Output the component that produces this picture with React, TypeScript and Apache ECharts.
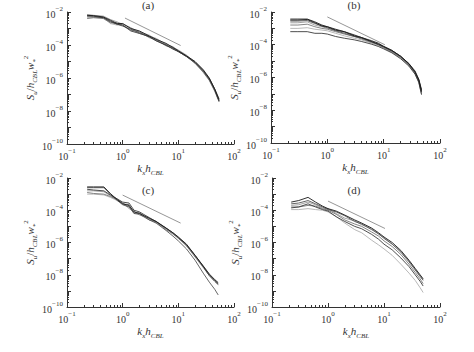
import React, { useEffect, useRef } from 'react';
import * as echarts from 'echarts';

// ---- data (S_u / h_CBL w*^2 versus k_x h_CBL) ----
const kA = [0.23, 0.3, 0.45, 0.6, 0.8, 1, 1.4, 2, 3, 4, 6, 8, 10, 14, 20, 28, 36, 45, 54];
const panelA = [
  [6.3e-3, 6.0e-3, 5.0e-3, 3.2e-3, 2.0e-3, 2.0e-3, 1.0e-3, 7.1e-4, 3.5e-4, 2.2e-4, 1.26e-4, 7.1e-5, 4.5e-5, 2.2e-5, 1.0e-5, 3.2e-6, 1.0e-6, 2.2e-7, 5.0e-8],
  [5.0e-3, 5.0e-3, 4.5e-3, 2.5e-3, 1.8e-3, 1.4e-3, 8.9e-4, 5.6e-4, 3.2e-4, 1.8e-4, 1.0e-4, 6.3e-5, 4.0e-5, 2.0e-5, 7.9e-6, 2.5e-6, 7.9e-7, 1.8e-7, 4.0e-8],
  [7.1e-3, 6.3e-3, 5.6e-3, 3.5e-3, 2.5e-3, 1.8e-3, 1.1e-3, 5.0e-4, 3.5e-4, 2.5e-4, 1.1e-4, 7.9e-5, 4.5e-5, 2.2e-5, 8.9e-6, 2.8e-6, 8.9e-7, 2.2e-7, 5.6e-8],
  [4.0e-3, 4.5e-3, 4.0e-3, 2.2e-3, 2.2e-3, 1.6e-3, 7.9e-4, 6.3e-4, 2.8e-4, 2.0e-4, 8.9e-5, 6.3e-5, 4.0e-5, 2.2e-5, 7.9e-6, 2.2e-6, 7.1e-7, 1.6e-7, 3.5e-8],
  [5.6e-3, 5.9e-3, 5.2e-3, 2.0e-3, 1.6e-3, 2.0e-3, 1.1e-3, 6.3e-4, 4.0e-4, 2.2e-4, 1.1e-4, 7.1e-5, 5.0e-5, 2.5e-5, 8.9e-6, 2.8e-6, 9.3e-7, 2.0e-7, 4.5e-8],
  [5.9e-3, 5.6e-3, 4.5e-3, 2.8e-3, 1.8e-3, 1.6e-3, 7.1e-4, 5.0e-4, 3.2e-4, 1.8e-4, 1.0e-4, 5.6e-5, 4.0e-5, 2.0e-5, 8.9e-6, 2.8e-6, 8.9e-7, 2.0e-7, 4.0e-8],
];
const refA = [[1.1, 4.3e-3], [11, 9.3e-5]];

const kB = [0.22, 0.3, 0.44, 0.6, 0.8, 1, 1.4, 2, 3, 4, 6, 8, 10, 14, 20, 28, 36, 42, 47];
const panelB = [
  [3.7e-3, 3.7e-3, 3.7e-3, 2.5e-3, 1.6e-3, 1.26e-3, 7.9e-4, 6.3e-4, 3.5e-4, 2.8e-4, 1.6e-4, 1.1e-4, 7.9e-5, 4.5e-5, 2.0e-5, 7.1e-6, 2.2e-6, 7.1e-7, 1.4e-7],
  [2.8e-3, 2.8e-3, 3.0e-3, 2.0e-3, 1.4e-3, 1.1e-3, 7.1e-4, 5.0e-4, 3.2e-4, 2.5e-4, 1.6e-4, 1.0e-4, 7.1e-5, 4.0e-5, 1.8e-5, 6.3e-6, 2.0e-6, 6.3e-7, 1.26e-7],
  [2.2e-3, 2.2e-3, 2.5e-3, 1.6e-3, 1.26e-3, 1.0e-3, 7.9e-4, 5.6e-4, 3.5e-4, 2.2e-4, 1.4e-4, 1.0e-4, 6.3e-5, 3.5e-5, 1.6e-5, 5.6e-6, 1.8e-6, 5.6e-7, 1.0e-7],
  [1.6e-3, 1.6e-3, 1.8e-3, 1.26e-3, 1.0e-3, 8.9e-4, 6.3e-4, 4.5e-4, 3.2e-4, 2.5e-4, 1.4e-4, 1.1e-4, 7.1e-5, 4.0e-5, 1.8e-5, 6.3e-6, 2.0e-6, 7.1e-7, 1.6e-7],
  [1.0e-3, 1.0e-3, 1.1e-3, 8.9e-4, 7.9e-4, 7.1e-4, 5.0e-4, 3.5e-4, 2.5e-4, 2.0e-4, 1.26e-4, 8.9e-5, 6.3e-5, 3.5e-5, 1.6e-5, 5.6e-6, 1.8e-6, 5.6e-7, 1.1e-7],
  [6.3e-4, 6.3e-4, 6.3e-4, 5.0e-4, 5.0e-4, 4.5e-4, 3.2e-4, 2.5e-4, 2.0e-4, 1.6e-4, 1.1e-4, 7.9e-5, 5.6e-5, 3.2e-5, 1.4e-5, 5.0e-6, 1.6e-6, 5.0e-7, 8.9e-8],
  [3.2e-3, 3.2e-3, 3.5e-3, 2.2e-3, 1.4e-3, 1.26e-3, 8.9e-4, 6.3e-4, 4.0e-4, 2.8e-4, 1.8e-4, 1.26e-4, 7.9e-5, 4.5e-5, 2.0e-5, 7.1e-6, 2.5e-6, 7.9e-7, 1.8e-7],
];
const refB = [[1.0, 5.0e-3], [10.5, 1.0e-4]];

const kC = [0.23, 0.3, 0.46, 0.6, 0.8, 1, 1.3, 1.6, 2, 3, 4, 6, 8, 10, 14, 20, 28, 36, 45, 52];
const panelC = [
  [2.8e-3, 2.8e-3, 2.8e-3, 1.1e-3, 4.5e-4, 2.5e-4, 2.0e-4, 7.9e-5, 6.3e-5, 3.2e-5, 2.0e-5, 7.9e-6, 4.0e-6, 2.2e-6, 7.9e-7, 1.6e-7, 3.5e-8, 1.1e-8, 5.0e-9, 3.2e-9],
  [2.5e-3, 2.5e-3, 2.5e-3, 1.0e-3, 4.0e-4, 2.2e-4, 1.6e-4, 6.3e-5, 5.6e-5, 2.5e-5, 1.6e-5, 5.6e-6, 2.5e-6, 1.26e-6, 4.0e-7, 7.9e-8, 1.26e-8, 3.5e-9, 1.26e-9, 5.6e-10],
  [1.6e-3, 1.6e-3, 1.4e-3, 7.9e-4, 5.0e-4, 2.8e-4, 1.6e-4, 7.9e-5, 6.3e-5, 2.8e-5, 1.8e-5, 7.1e-6, 3.5e-6, 2.0e-6, 7.1e-7, 1.4e-7, 3.2e-8, 1.0e-8, 4.5e-9, 2.8e-9],
  [1.26e-3, 1.1e-3, 1.0e-3, 7.1e-4, 4.5e-4, 2.5e-4, 2.2e-4, 6.3e-5, 7.1e-5, 2.5e-5, 2.0e-5, 6.3e-6, 3.5e-6, 1.8e-6, 6.3e-7, 1.26e-7, 2.8e-8, 8.9e-9, 4.0e-9, 2.5e-9],
  [1.0e-3, 1.0e-3, 8.9e-4, 6.3e-4, 4.0e-4, 2.8e-4, 1.26e-4, 8.9e-5, 5.0e-5, 3.2e-5, 1.6e-5, 7.9e-6, 3.2e-6, 2.0e-6, 6.3e-7, 1.4e-7, 3.5e-8, 1.1e-8, 5.0e-9, 3.2e-9],
  [2.0e-3, 1.8e-3, 1.6e-3, 8.9e-4, 5.0e-4, 3.2e-4, 2.8e-4, 1.0e-4, 7.9e-5, 3.5e-5, 2.0e-5, 7.9e-6, 4.0e-6, 2.0e-6, 7.1e-7, 1.6e-7, 3.2e-8, 8.9e-9, 4.0e-9, 2.5e-9],
];
const refC = [[1.0, 8.7e-4], [11, 1.6e-5]];

const kD = [0.22, 0.3, 0.44, 0.6, 0.8, 1, 1.4, 2, 3, 4, 6, 8, 10, 14, 20, 28, 36, 44, 50];
const panelD = [
  [3.2e-4, 4.0e-4, 6.3e-4, 3.2e-4, 1.8e-4, 1.26e-4, 8.9e-5, 5.0e-5, 2.5e-5, 1.6e-5, 7.9e-6, 4.0e-6, 2.2e-6, 1.0e-6, 3.2e-7, 7.9e-8, 2.5e-8, 1.0e-8, 5.6e-9],
  [2.5e-4, 2.8e-4, 4.0e-4, 2.5e-4, 1.6e-4, 1.1e-4, 7.9e-5, 4.5e-5, 2.0e-5, 1.4e-5, 6.3e-6, 3.5e-6, 1.8e-6, 7.9e-7, 2.5e-7, 6.3e-8, 2.0e-8, 7.9e-9, 4.5e-9],
  [2.0e-4, 2.2e-4, 3.2e-4, 2.2e-4, 1.4e-4, 1.26e-4, 6.3e-5, 3.2e-5, 2.2e-5, 1.26e-5, 7.1e-6, 3.2e-6, 2.0e-6, 7.9e-7, 2.8e-7, 7.1e-8, 2.2e-8, 8.9e-9, 5.0e-9],
  [1.6e-4, 1.6e-4, 2.0e-4, 1.8e-4, 1.26e-4, 1.0e-4, 5.6e-5, 2.5e-5, 1.4e-5, 1.0e-5, 4.5e-6, 2.5e-6, 1.26e-6, 5.6e-7, 1.8e-7, 4.5e-8, 1.4e-8, 5.6e-9, 2.8e-9],
  [1.1e-4, 1.1e-4, 1.26e-4, 1.1e-4, 1.0e-4, 7.9e-5, 4.0e-5, 1.6e-5, 6.3e-6, 4.0e-6, 1.4e-6, 7.1e-7, 4.0e-7, 1.6e-7, 4.5e-8, 1.26e-8, 4.5e-9, 1.6e-9, 7.9e-10],
  [1.4e-4, 1.6e-4, 2.5e-4, 1.6e-4, 1.1e-4, 8.9e-5, 4.0e-5, 2.0e-5, 1.0e-5, 7.1e-6, 3.2e-6, 1.6e-6, 7.9e-7, 3.5e-7, 1.1e-7, 3.2e-8, 1.0e-8, 4.0e-9, 2.0e-9],
];
const refD = [[1.0, 3.7e-4], [10.4, 7.4e-6]];

const panelTitles = ['(a)', '(b)', '(c)', '(d)'];
const curveColors = ['#1a1a1a', '#555555', '#999999', '#777777', '#b0b0b0', '#3a3a3a', '#222222'];

const FONT = '"Liberation Serif", "Times New Roman", serif';

const grids = [
  { left: 67, top: 12, width: 167, height: 132 },
  { left: 271, top: 12, width: 169, height: 131 },
  { left: 67, top: 178, width: 167, height: 129 },
  { left: 272, top: 178, width: 168, height: 129 },
];
const titlePos = [[148, 5], [354, 5], [148, 190], [354, 190]];

const labelRich = {
  b: { fontSize: 10, fontFamily: FONT, color: '#333', lineHeight: 14, verticalAlign: 'bottom' },
  s: { fontSize: 7, fontFamily: FONT, color: '#333', lineHeight: 8, verticalAlign: 'top' },
};
const nameRich = {
  i: { fontSize: 11, fontFamily: FONT, fontStyle: 'italic', color: '#333', lineHeight: 16, verticalAlign: 'middle' },
  r: { fontSize: 11, fontFamily: FONT, color: '#333', lineHeight: 16, verticalAlign: 'middle' },
  sb: { fontSize: 7, fontFamily: FONT, fontStyle: 'italic', color: '#333', lineHeight: 8, verticalAlign: 'bottom' },
  sp: { fontSize: 7, fontFamily: FONT, color: '#333', lineHeight: 8, verticalAlign: 'top' },
};

function powLabel(v: number) {
  const e = Math.round(Math.log10(v));
  return `{b|10}{s|${e < 0 ? '−' + -e : e}}`;
}
function evenPowLabel(v: number) {
  const e = Math.round(Math.log10(v));
  return e % 2 === 0 ? powLabel(v) : '';
}

const minorX: number[] = [];
for (let n = -1; n < 2; n++) for (let k = 2; k < 10; k++) minorX.push(n + Math.log10(k));
const minorY: number[] = [];
for (let n = -10; n < -2; n++) for (let k = 2; k < 10; k++) minorY.push(n + Math.log10(k));

export default function App() {
  const ref = useRef<HTMLDivElement>(null);
  useEffect(() => {
    if (!ref.current) return;
    const chart = echarts.init(ref.current, null, { renderer: 'svg' });
    const panels = [
      { k: kA, curves: panelA, ref: refA },
      { k: kB, curves: panelB, ref: refB },
      { k: kC, curves: panelC, ref: refC },
      { k: kD, curves: panelD, ref: refD },
    ];
    const xAxis: any[] = [];
    const yAxis: any[] = [];
    const series: any[] = [];
    panels.forEach((p, i) => {
      xAxis.push({
        type: 'log', logBase: 10, min: 0.1, max: 100, gridIndex: i, position: 'bottom',
        axisLine: { onZero: false, lineStyle: { color: '#333', width: 1 } },
        axisTick: { inside: true, length: 4, lineStyle: { color: '#333' } },
        axisLabel: { formatter: powLabel, rich: labelRich, margin: 3 },
        splitLine: { show: false },
        name: '{i|k}{sb|x}{i|h}{sb|CBL}', nameLocation: 'middle', nameGap: 16,
        nameTextStyle: { rich: nameRich },
      });
      xAxis.push({
        type: 'value', min: -1, max: 2, gridIndex: i, position: 'bottom',
        axisLine: { show: false, onZero: false },
        axisTick: { inside: true, length: 2, customValues: minorX, lineStyle: { color: '#333' } },
        axisLabel: { show: false }, splitLine: { show: false },
      });
      yAxis.push({
        type: 'log', logBase: 10, min: 1e-10, max: 1e-2, gridIndex: i, position: 'left',
        axisLine: { onZero: false, lineStyle: { color: '#333', width: 1 } },
        axisTick: { inside: true, length: 4, interval: 0, lineStyle: { color: '#333' } },
        axisLabel: { formatter: evenPowLabel, rich: labelRich, margin: 4, interval: 0 },
        splitLine: { show: false },
        name: '{i|S}{sb|u}{r|/}{i|h}{sb|CBL}{i|w}{sb|*}{sp|2}', nameLocation: 'middle', nameGap: 26, nameRotate: 90,
        nameTextStyle: { rich: nameRich },
      });
      yAxis.push({
        type: 'value', min: -10, max: -2, gridIndex: i, position: 'left',
        axisLine: { show: false, onZero: false },
        axisTick: { inside: true, length: 2, customValues: minorY, lineStyle: { color: '#333' } },
        axisLabel: { show: false }, splitLine: { show: false },
      });
      const order = p.curves.map((_, j) => j).sort((a, b) => (curveColors[b] > curveColors[a] ? 1 : -1));
      order.forEach((j) => {
        series.push({
          type: 'line', xAxisIndex: i * 2, yAxisIndex: i * 2,
          data: p.k.map((x, m) => [x, p.curves[j][m]]),
          showSymbol: false, symbol: 'none', silent: true,
          lineStyle: { color: curveColors[j], width: 0.9 },
        });
      });
      series.push({
        type: 'line', xAxisIndex: i * 2, yAxisIndex: i * 2,
        data: p.ref, showSymbol: false, symbol: 'none', silent: true,
        lineStyle: { color: '#8a8a8a', width: 0.9 },
      });
    });
    chart.setOption({
      animation: false,
      backgroundColor: '#ffffff',
      grid: grids,
      xAxis, yAxis, series,
      graphic: panelTitles.map((t, i) => ({
        type: 'text', x: titlePos[i][0], y: titlePos[i][1],
        style: { text: t, fontFamily: FONT, fontSize: 11, fill: '#333', textAlign: 'center', textVerticalAlign: 'middle' },
      })),
    });
    return () => chart.dispose();
  }, []);
  return <div ref={ref} style={{ position: 'absolute', left: 0, top: 0, width: 474, height: 352 }} />;
}
